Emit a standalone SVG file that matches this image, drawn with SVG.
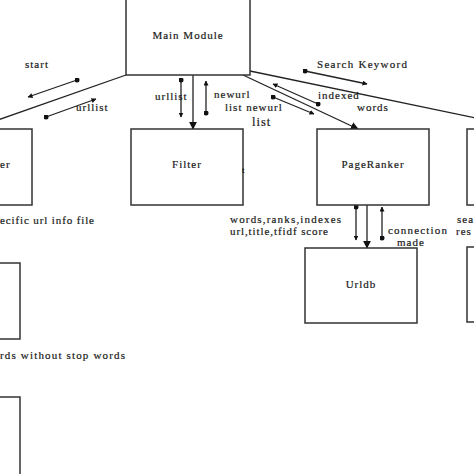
<svg xmlns="http://www.w3.org/2000/svg" width="474" height="474" viewBox="0 0 474 474">
<defs>
<marker id="ah" viewBox="0 0 10 10" refX="9" refY="5" markerWidth="5" markerHeight="5" markerUnits="userSpaceOnUse" orient="auto"><path d="M0,0 L10,5 L0,10 z" fill="#111"/></marker>
<marker id="ahb" viewBox="0 0 10 10" refX="9" refY="5" markerWidth="8" markerHeight="8" markerUnits="userSpaceOnUse" orient="auto"><path d="M0,0 L10,5 L0,10 z" fill="#111"/></marker>
<marker id="dot" viewBox="0 0 10 10" refX="5" refY="5" markerWidth="5" markerHeight="5" markerUnits="userSpaceOnUse"><circle cx="5" cy="5" r="5" fill="#111"/></marker>
</defs>
<style>
.box{fill:#fff;stroke:#333;stroke-width:1.5}
.ln{fill:none;stroke:#222;stroke-width:1.3}
.sm{fill:none;stroke:#222;stroke-width:1.3;marker-start:url(#dot);marker-end:url(#ah)}
text{font-family:"Liberation Serif","Times New Roman",serif;font-size:11px;fill:#1a1a1a;letter-spacing:1px;stroke:#1a1a1a;stroke-width:0.2}
.c{text-anchor:middle}
</style>
<rect width="474" height="474" fill="#fff"/>
<g id="connectors">
<line class="ln" x1="126" y1="75" x2="-5" y2="121"/>
<line class="ln" x1="193" y1="75" x2="193" y2="129" marker-end="url(#ahb)"/>
<line class="ln" x1="243" y1="75" x2="358" y2="129" marker-end="url(#ahb)"/>
<line class="ln" x1="250" y1="71" x2="476" y2="118"/>
<line class="ln" x1="367" y1="205" x2="367" y2="248" marker-end="url(#ahb)"/>
<line class="sm" x1="77" y1="80" x2="28" y2="97"/>
<line class="sm" x1="46" y1="117" x2="96" y2="99"/>
<line class="sm" x1="181" y1="80" x2="181" y2="117"/>
<line class="sm" x1="206" y1="113" x2="206" y2="81"/>
<line class="sm" x1="305" y1="71" x2="367" y2="84"/>
<line class="sm" x1="318" y1="104" x2="273" y2="84"/>
<line class="sm" x1="273" y1="97" x2="314" y2="114"/>
<line class="sm" x1="356" y1="207" x2="356" y2="240"/>
<line class="sm" x1="382" y1="238" x2="382" y2="207"/>
</g>
<g id="main-module"><rect class="box" x="126" y="-5" width="124" height="80"/><text class="c" x="188" y="39">Main Module</text></g>
<g id="crawler"><rect class="box" x="-10" y="129" width="42" height="76"/><text x="0" y="168">er</text></g>
<g id="filter"><rect class="box" x="131" y="129" width="112" height="76"/><text class="c" x="187" y="168">Filter</text></g>
<g id="pageranker"><rect class="box" x="317" y="129" width="112" height="76"/><text class="c" x="373" y="168">PageRanker</text></g>
<g id="right-upper"><rect class="box" x="467" y="129" width="20" height="76"/></g>
<g id="urldb"><rect class="box" x="305" y="248" width="112" height="75"/><text class="c" x="361" y="288">Urldb</text></g>
<g id="right-lower"><rect class="box" x="467" y="247" width="20" height="75"/></g>
<g id="left-lower"><rect class="box" x="-10" y="263" width="30" height="76"/></g>
<g id="left-bottom"><rect class="box" x="-10" y="397" width="30" height="90"/></g>
<g id="labels">
<text x="25" y="68">start</text>
<text x="76" y="111">urllist</text>
<text x="155" y="100">urllist</text>
<text x="214" y="98">newurl</text>
<text x="225" y="111">list newurl</text>
<text x="252" y="126" style="font-size:12.5px">list</text>
<text x="317" y="68" textLength="91" lengthAdjust="spacing">Search Keyword</text>
<text x="318" y="99">indexed</text>
<text x="357" y="111">words</text>
<text x="242" y="173" style="font-size:9px">t</text>
<text x="0" y="224" textLength="95" lengthAdjust="spacing">ecific url info file</text>
<text x="230" y="223" textLength="112" lengthAdjust="spacing">words,ranks,indexes</text>
<text x="230" y="235" textLength="99" lengthAdjust="spacing">url,title,tfidf score</text>
<text x="388" y="234" textLength="60" lengthAdjust="spacing">connection</text>
<text x="397" y="246">made</text>
<text x="457" y="223">sea</text>
<text x="456" y="235">res</text>
<text x="0" y="359" textLength="126" lengthAdjust="spacing">rds without stop words</text>
</g>
</svg>
